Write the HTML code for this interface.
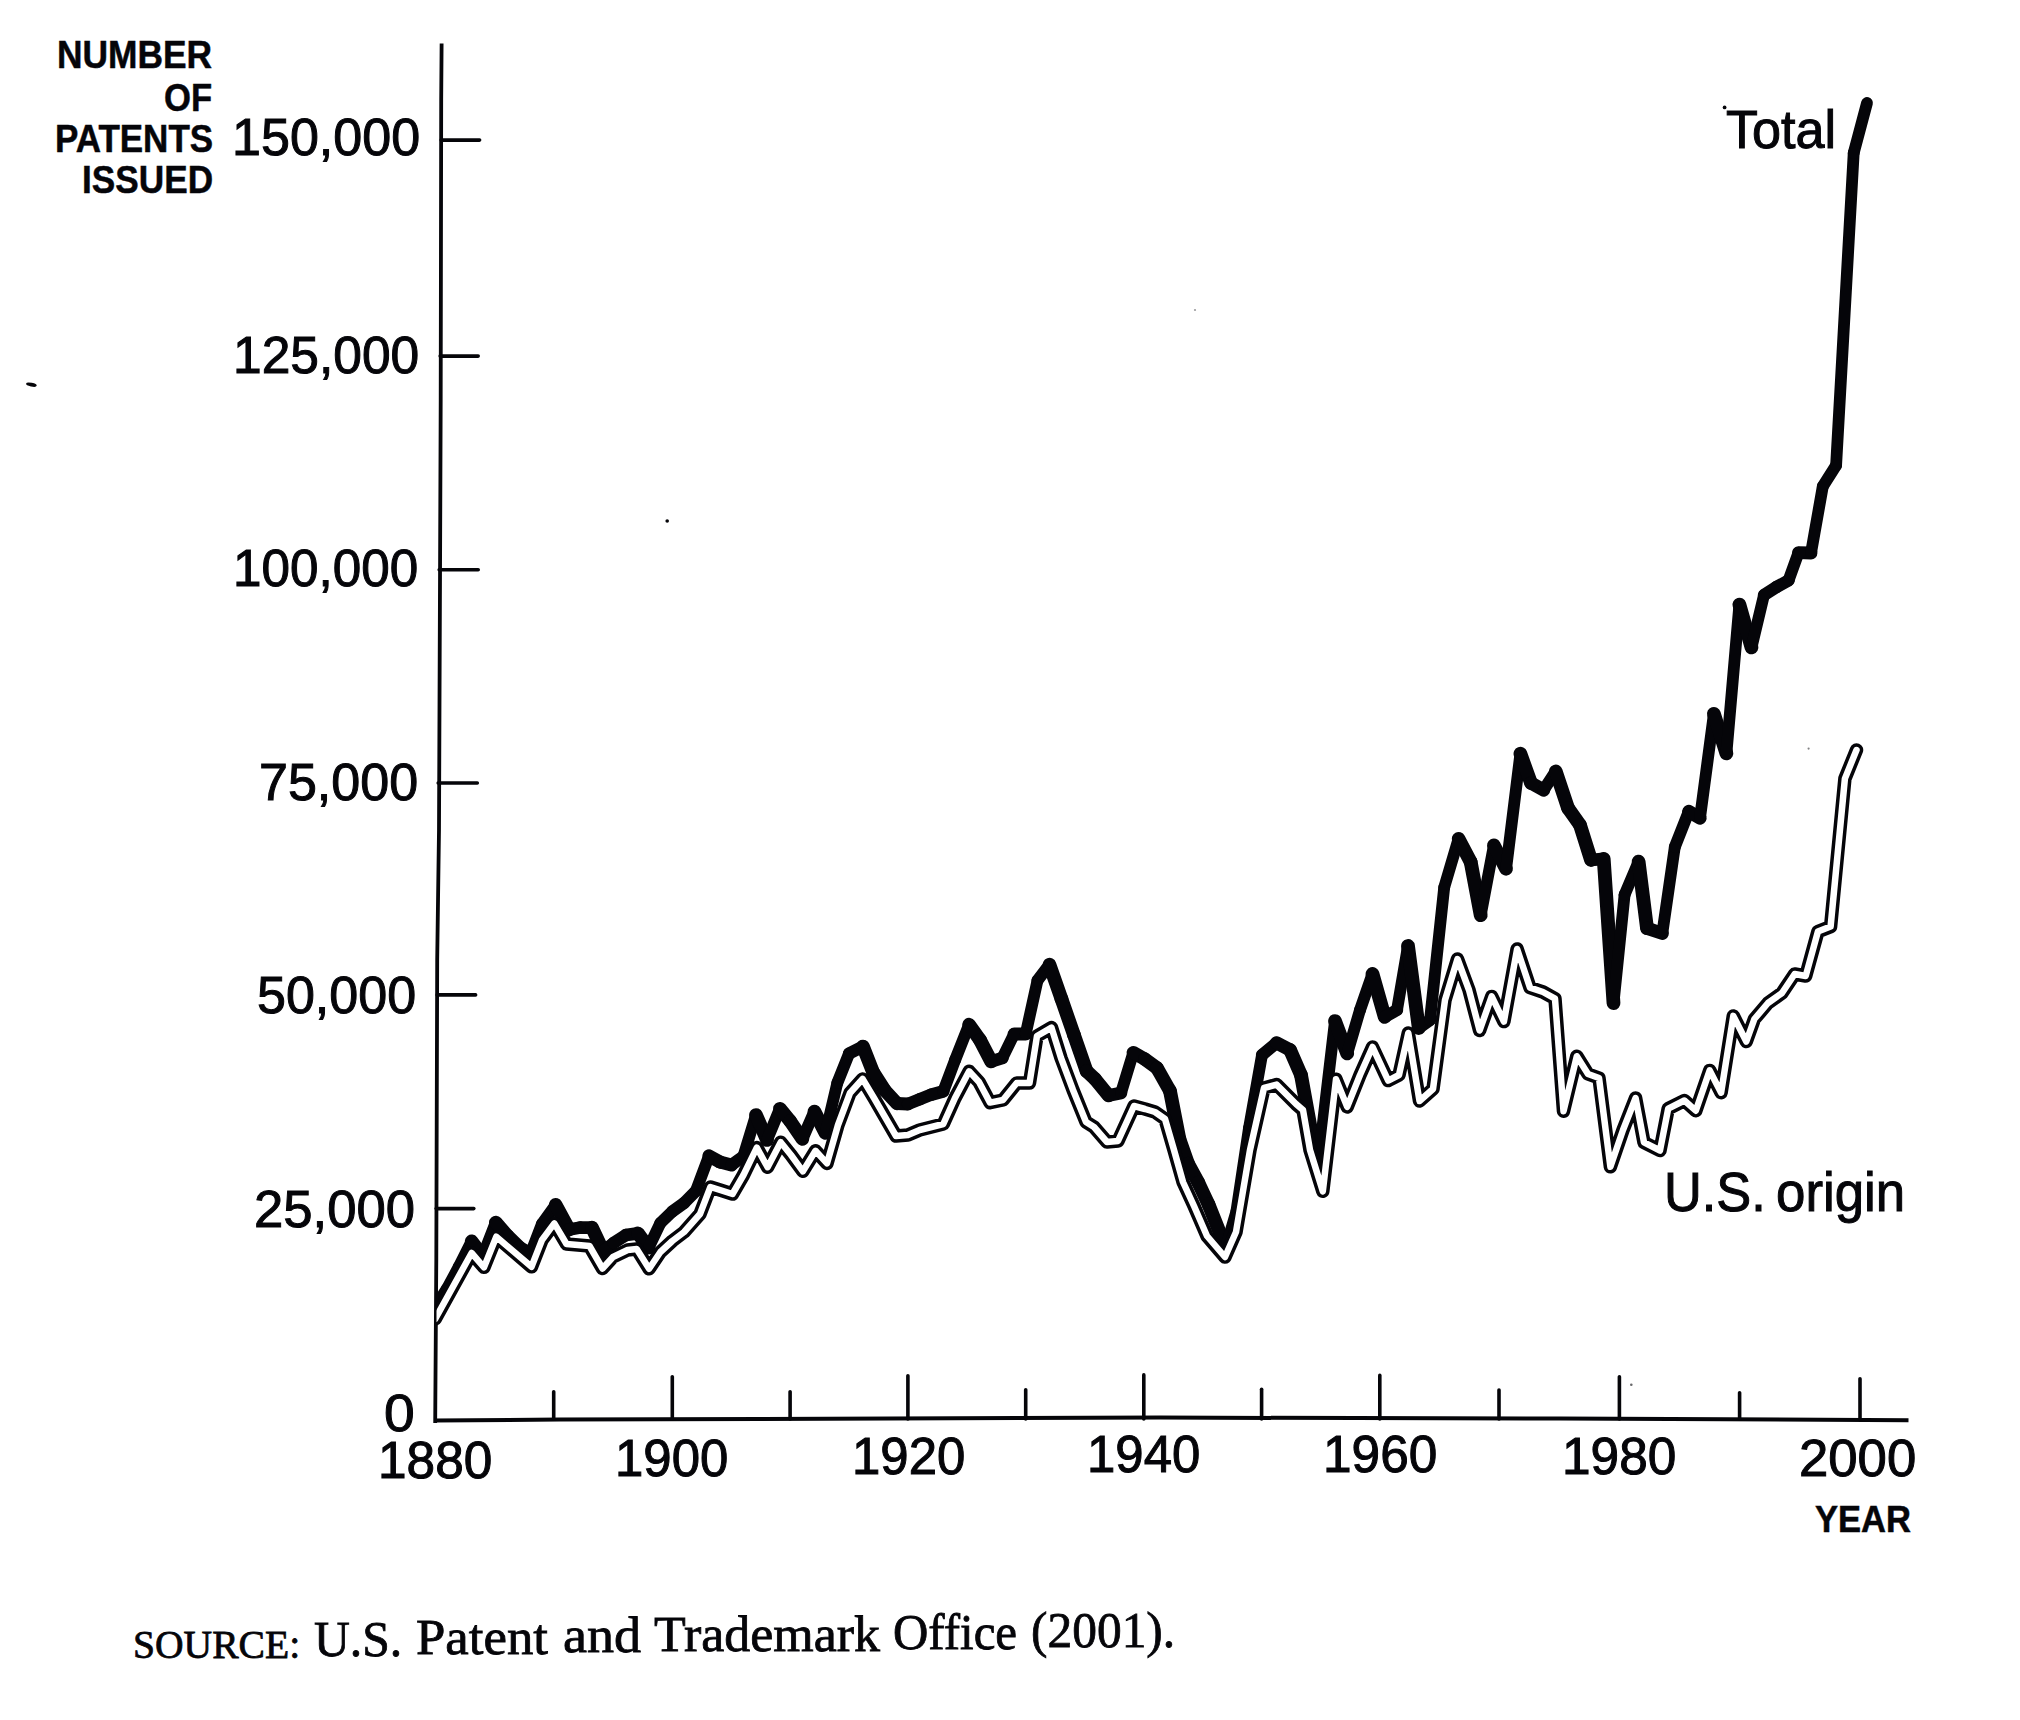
<!DOCTYPE html>
<html><head><meta charset="utf-8"><title>Number of patents issued</title>
<style>
html,body{margin:0;padding:0;background:#fff;}
body{width:2020px;height:1720px;overflow:hidden;}
svg{display:block;}
</style></head>
<body>
<svg width="2020" height="1720" viewBox="0 0 2020 1720">
<rect width="2020" height="1720" fill="#ffffff"/>
<g stroke="#050509" fill="none" stroke-linecap="round">
<polyline points="441.6,45.3 441.2,100 440.7,400 440.2,530 439.0,830 437.2,960 436.3,1260 435.2,1421" stroke-width="3.8" stroke-linecap="square"/>
<polyline points="435.2,1420.4 560,1419.6 760,1419 1160,1417.6 1560,1418.6 1908.5,1420.2" stroke-width="4.0" stroke-linecap="butt"/>
<g stroke-width="3.6"><line x1="441.2" y1="140.1" x2="479.6" y2="140.1"/>
<line x1="440.2" y1="356.1" x2="478.2" y2="356.1"/>
<line x1="439.2" y1="569.8" x2="478.2" y2="569.8"/>
<line x1="438.2" y1="783.0" x2="477.3" y2="783.0"/>
<line x1="437.2" y1="994.9" x2="475.6" y2="994.9"/>
<line x1="436.2" y1="1208.6" x2="473.8" y2="1208.6"/>
<line x1="553.7" y1="1391.7" x2="553.7" y2="1419"/>
<line x1="672.3" y1="1376.8" x2="672.3" y2="1419"/>
<line x1="790.1" y1="1391.7" x2="790.1" y2="1419"/>
<line x1="907.9" y1="1375.8" x2="907.9" y2="1419"/>
<line x1="1025.7" y1="1389.7" x2="1025.7" y2="1419"/>
<line x1="1143.8" y1="1374.9" x2="1143.8" y2="1419"/>
<line x1="1261.6" y1="1389.3" x2="1261.6" y2="1419"/>
<line x1="1379.8" y1="1375.4" x2="1379.8" y2="1419"/>
<line x1="1499.0" y1="1390.1" x2="1499.0" y2="1419"/>
<line x1="1619.4" y1="1376.8" x2="1619.4" y2="1419"/>
<line x1="1739.6" y1="1392.7" x2="1739.6" y2="1419"/>
<line x1="1860.0" y1="1378.8" x2="1860.0" y2="1419"/></g>
</g>
<defs><clipPath id="cp"><rect x="436.5" y="0" width="1600" height="1720"/></clipPath></defs>
<g fill="none" stroke-linejoin="round" clip-path="url(#cp)">
<g stroke="#050509" stroke-linecap="round"><line x1="435.2" y1="1307.0" x2="447.1" y2="1288.5" stroke-width="12.0"/><line x1="447.1" y1="1288.5" x2="458.9" y2="1266.7" stroke-width="11.9"/><line x1="458.9" y1="1266.7" x2="471.6" y2="1241.3" stroke-width="11.9"/><line x1="471.6" y1="1241.3" x2="482.8" y2="1256.0" stroke-width="13.6"/><line x1="482.8" y1="1256.0" x2="495.8" y2="1222.5" stroke-width="11.9"/><line x1="495.8" y1="1222.5" x2="507.5" y2="1235.9" stroke-width="13.6"/><line x1="507.5" y1="1235.9" x2="519.3" y2="1247.4" stroke-width="13.5"/><line x1="519.3" y1="1247.4" x2="530.5" y2="1254.0" stroke-width="13.3"/><line x1="530.5" y1="1254.0" x2="542.0" y2="1224.0" stroke-width="11.9"/><line x1="542.0" y1="1224.0" x2="555.7" y2="1204.9" stroke-width="12.0"/><line x1="555.7" y1="1204.9" x2="569.0" y2="1229.5" stroke-width="13.7"/><line x1="569.0" y1="1229.5" x2="580.0" y2="1227.6" stroke-width="12.6"/><line x1="580.0" y1="1227.6" x2="592.0" y2="1227.6" stroke-width="12.8"/><line x1="592.0" y1="1227.6" x2="603.0" y2="1251.0" stroke-width="13.7"/><line x1="603.0" y1="1251.0" x2="613.5" y2="1243.0" stroke-width="12.2"/><line x1="613.5" y1="1243.0" x2="626.0" y2="1235.0" stroke-width="12.3"/><line x1="626.0" y1="1235.0" x2="638.0" y2="1233.4" stroke-width="12.7"/><line x1="638.0" y1="1233.4" x2="648.6" y2="1247.7" stroke-width="13.6"/><line x1="648.6" y1="1247.7" x2="660.4" y2="1223.0" stroke-width="11.9"/><line x1="660.4" y1="1223.0" x2="672.3" y2="1211.5" stroke-width="12.1"/><line x1="672.3" y1="1211.5" x2="684.1" y2="1203.0" stroke-width="12.2"/><line x1="684.1" y1="1203.0" x2="695.9" y2="1191.0" stroke-width="12.1"/><line x1="695.9" y1="1191.0" x2="709.0" y2="1156.0" stroke-width="11.9"/><line x1="709.0" y1="1156.0" x2="720.0" y2="1162.0" stroke-width="13.3"/><line x1="720.0" y1="1162.0" x2="731.4" y2="1165.0" stroke-width="13.1"/><line x1="731.4" y1="1165.0" x2="743.3" y2="1156.4" stroke-width="12.2"/><line x1="743.3" y1="1156.4" x2="756.0" y2="1115.0" stroke-width="11.8"/><line x1="756.0" y1="1115.0" x2="767.0" y2="1140.0" stroke-width="13.7"/><line x1="767.0" y1="1140.0" x2="779.9" y2="1108.7" stroke-width="11.9"/><line x1="779.9" y1="1108.7" x2="790.1" y2="1121.0" stroke-width="13.6"/><line x1="790.1" y1="1121.0" x2="802.4" y2="1139.0" stroke-width="13.6"/><line x1="802.4" y1="1139.0" x2="814.4" y2="1111.5" stroke-width="11.9"/><line x1="814.4" y1="1111.5" x2="825.5" y2="1133.0" stroke-width="13.7"/><line x1="825.5" y1="1133.0" x2="837.3" y2="1083.0" stroke-width="11.8"/><line x1="837.3" y1="1083.0" x2="849.1" y2="1053.5" stroke-width="11.9"/><line x1="849.1" y1="1053.5" x2="863.0" y2="1046.5" stroke-width="12.4"/><line x1="863.0" y1="1046.5" x2="873.0" y2="1072.0" stroke-width="13.7"/><line x1="873.0" y1="1072.0" x2="884.5" y2="1090.0" stroke-width="13.6"/><line x1="884.5" y1="1090.0" x2="897.0" y2="1103.5" stroke-width="13.5"/><line x1="897.0" y1="1103.5" x2="907.9" y2="1104.0" stroke-width="12.8"/><line x1="907.9" y1="1104.0" x2="919.7" y2="1099.3" stroke-width="12.4"/><line x1="919.7" y1="1099.3" x2="931.5" y2="1094.6" stroke-width="12.4"/><line x1="931.5" y1="1094.6" x2="943.3" y2="1091.4" stroke-width="12.5"/><line x1="943.3" y1="1091.4" x2="955.1" y2="1060.0" stroke-width="11.9"/><line x1="955.1" y1="1060.0" x2="969.1" y2="1024.6" stroke-width="11.9"/><line x1="969.1" y1="1024.6" x2="980.0" y2="1040.0" stroke-width="13.6"/><line x1="980.0" y1="1040.0" x2="991.2" y2="1061.5" stroke-width="13.7"/><line x1="991.2" y1="1061.5" x2="1002.4" y2="1058.0" stroke-width="12.5"/><line x1="1002.4" y1="1058.0" x2="1014.1" y2="1034.0" stroke-width="11.9"/><line x1="1014.1" y1="1034.0" x2="1025.7" y2="1034.0" stroke-width="12.8"/><line x1="1025.7" y1="1034.0" x2="1037.5" y2="980.4" stroke-width="11.8"/><line x1="1037.5" y1="980.4" x2="1049.5" y2="964.7" stroke-width="12.0"/><line x1="1049.5" y1="964.7" x2="1061.5" y2="999.0" stroke-width="13.7"/><line x1="1061.5" y1="999.0" x2="1074.0" y2="1035.0" stroke-width="13.7"/><line x1="1074.0" y1="1035.0" x2="1086.5" y2="1071.0" stroke-width="13.7"/><line x1="1086.5" y1="1071.0" x2="1095.0" y2="1079.0" stroke-width="13.5"/><line x1="1095.0" y1="1079.0" x2="1108.5" y2="1095.5" stroke-width="13.6"/><line x1="1108.5" y1="1095.5" x2="1121.0" y2="1093.0" stroke-width="12.6"/><line x1="1121.0" y1="1093.0" x2="1133.3" y2="1052.6" stroke-width="11.8"/><line x1="1133.3" y1="1052.6" x2="1144.6" y2="1059.0" stroke-width="13.3"/><line x1="1144.6" y1="1059.0" x2="1157.0" y2="1068.0" stroke-width="13.4"/><line x1="1157.0" y1="1068.0" x2="1170.0" y2="1091.0" stroke-width="13.7"/><line x1="1170.0" y1="1091.0" x2="1179.4" y2="1139.0" stroke-width="13.8"/><line x1="1179.4" y1="1139.0" x2="1188.1" y2="1163.7" stroke-width="13.7"/><line x1="1188.1" y1="1163.7" x2="1198.3" y2="1182.6" stroke-width="13.7"/><line x1="1198.3" y1="1182.6" x2="1208.5" y2="1204.4" stroke-width="13.7"/><line x1="1208.5" y1="1204.4" x2="1225.8" y2="1247.7" stroke-width="13.7"/><line x1="1225.8" y1="1247.7" x2="1236.4" y2="1211.4" stroke-width="11.8"/><line x1="1236.4" y1="1211.4" x2="1249.0" y2="1128.0" stroke-width="11.8"/><line x1="1249.0" y1="1128.0" x2="1262.0" y2="1055.0" stroke-width="11.8"/><line x1="1262.0" y1="1055.0" x2="1276.6" y2="1042.8" stroke-width="12.2"/><line x1="1276.6" y1="1042.8" x2="1290.0" y2="1049.8" stroke-width="13.3"/><line x1="1290.0" y1="1049.8" x2="1301.0" y2="1075.0" stroke-width="13.7"/><line x1="1301.0" y1="1075.0" x2="1311.0" y2="1130.0" stroke-width="13.8"/><line x1="1311.0" y1="1130.0" x2="1319.0" y2="1156.4" stroke-width="13.8"/><line x1="1319.0" y1="1156.4" x2="1335.0" y2="1021.0" stroke-width="11.8"/><line x1="1335.0" y1="1021.0" x2="1347.2" y2="1053.5" stroke-width="13.7"/><line x1="1347.2" y1="1053.5" x2="1360.0" y2="1010.0" stroke-width="11.8"/><line x1="1360.0" y1="1010.0" x2="1372.5" y2="974.0" stroke-width="11.9"/><line x1="1372.5" y1="974.0" x2="1384.7" y2="1016.9" stroke-width="13.8"/><line x1="1384.7" y1="1016.9" x2="1397.0" y2="1010.0" stroke-width="12.3"/><line x1="1397.0" y1="1010.0" x2="1408.0" y2="946.0" stroke-width="11.8"/><line x1="1408.0" y1="946.0" x2="1418.8" y2="1028.0" stroke-width="13.8"/><line x1="1418.8" y1="1028.0" x2="1430.0" y2="1020.0" stroke-width="12.2"/><line x1="1430.0" y1="1020.0" x2="1444.2" y2="887.4" stroke-width="11.8"/><line x1="1444.2" y1="887.4" x2="1458.6" y2="838.8" stroke-width="11.8"/><line x1="1458.6" y1="838.8" x2="1470.7" y2="862.0" stroke-width="13.7"/><line x1="1470.7" y1="862.0" x2="1480.7" y2="915.2" stroke-width="13.8"/><line x1="1480.7" y1="915.2" x2="1493.9" y2="845.4" stroke-width="11.8"/><line x1="1493.9" y1="845.4" x2="1506.1" y2="868.8" stroke-width="13.7"/><line x1="1506.1" y1="868.8" x2="1520.4" y2="753.7" stroke-width="11.8"/><line x1="1520.4" y1="753.7" x2="1531.0" y2="783.0" stroke-width="13.7"/><line x1="1531.0" y1="783.0" x2="1543.6" y2="790.0" stroke-width="13.3"/><line x1="1543.6" y1="790.0" x2="1555.8" y2="771.4" stroke-width="12.0"/><line x1="1555.8" y1="771.4" x2="1568.0" y2="808.0" stroke-width="13.7"/><line x1="1568.0" y1="808.0" x2="1580.0" y2="825.0" stroke-width="13.6"/><line x1="1580.0" y1="825.0" x2="1591.0" y2="860.0" stroke-width="13.8"/><line x1="1591.0" y1="860.0" x2="1603.7" y2="858.9" stroke-width="12.7"/><line x1="1603.7" y1="858.9" x2="1613.5" y2="1003.1" stroke-width="13.8"/><line x1="1613.5" y1="1003.1" x2="1624.6" y2="894.7" stroke-width="11.8"/><line x1="1624.6" y1="894.7" x2="1638.6" y2="861.7" stroke-width="11.9"/><line x1="1638.6" y1="861.7" x2="1647.0" y2="928.2" stroke-width="13.8"/><line x1="1647.0" y1="928.2" x2="1662.3" y2="933.4" stroke-width="13.1"/><line x1="1662.3" y1="933.4" x2="1674.8" y2="847.0" stroke-width="11.8"/><line x1="1674.8" y1="847.0" x2="1688.8" y2="811.5" stroke-width="11.9"/><line x1="1688.8" y1="811.5" x2="1700.0" y2="818.0" stroke-width="13.3"/><line x1="1700.0" y1="818.0" x2="1713.9" y2="713.8" stroke-width="11.8"/><line x1="1713.9" y1="713.8" x2="1726.4" y2="753.4" stroke-width="13.8"/><line x1="1726.4" y1="753.4" x2="1739.4" y2="604.6" stroke-width="11.8"/><line x1="1739.4" y1="604.6" x2="1751.5" y2="647.4" stroke-width="13.8"/><line x1="1751.5" y1="647.4" x2="1764.0" y2="595.0" stroke-width="11.8"/><line x1="1764.0" y1="595.0" x2="1776.5" y2="587.0" stroke-width="12.3"/><line x1="1776.5" y1="587.0" x2="1788.6" y2="580.3" stroke-width="12.3"/><line x1="1788.6" y1="580.3" x2="1798.5" y2="552.7" stroke-width="11.9"/><line x1="1798.5" y1="552.7" x2="1811.0" y2="553.0" stroke-width="12.8"/><line x1="1811.0" y1="553.0" x2="1822.8" y2="486.4" stroke-width="11.8"/><line x1="1822.8" y1="486.4" x2="1836.1" y2="465.4" stroke-width="12.0"/><line x1="1836.1" y1="465.4" x2="1853.7" y2="153.0" stroke-width="11.8"/><line x1="1853.7" y1="153.0" x2="1867.0" y2="103.0" stroke-width="11.8"/></g>
<polyline points="435.2,1319.0 471.6,1253.0 484.0,1267.3 496.3,1236.7 531.5,1266.8 542.0,1240.0 554.3,1223.4 566.5,1244.0 578.0,1245.0 589.5,1246.0 602.5,1268.5 613.0,1257.0 627.6,1250.0 636.7,1249.0 649.1,1268.8 660.4,1252.0 672.3,1241.0 684.1,1232.0 700.0,1214.0 710.4,1187.0 720.0,1190.0 732.5,1194.0 743.5,1175.0 756.8,1147.6 767.6,1167.2 780.7,1142.2 791.0,1155.0 802.9,1171.3 815.5,1150.8 827.0,1163.4 838.0,1125.0 850.0,1093.0 862.6,1079.0 874.0,1098.0 885.0,1117.0 896.0,1136.0 907.9,1135.0 919.7,1130.0 931.5,1127.0 943.3,1124.0 955.0,1098.0 969.1,1071.3 979.0,1082.0 990.0,1102.6 1003.0,1100.0 1016.7,1083.0 1029.5,1083.0 1037.0,1036.0 1051.5,1027.6 1061.0,1058.0 1073.0,1090.0 1086.0,1122.0 1094.0,1127.0 1107.0,1142.0 1118.0,1141.0 1134.0,1106.0 1145.0,1109.0 1155.0,1112.0 1165.0,1119.0 1174.0,1150.0 1183.0,1182.0 1194.0,1206.0 1207.0,1236.0 1225.0,1257.0 1236.0,1232.0 1250.0,1150.0 1264.0,1088.0 1276.6,1084.6 1296.0,1104.0 1303.0,1110.0 1310.0,1150.0 1322.8,1191.3 1336.0,1079.3 1347.2,1106.9 1360.0,1075.0 1372.5,1047.0 1388.2,1080.6 1399.0,1075.0 1408.3,1033.0 1419.5,1101.0 1433.0,1089.0 1445.0,1000.0 1457.5,959.0 1469.0,990.0 1479.6,1030.5 1491.7,996.4 1503.9,1021.6 1517.1,949.0 1530.0,987.6 1543.0,992.0 1555.0,998.7 1563.5,1111.2 1576.8,1056.2 1588.0,1074.0 1599.0,1078.0 1610.4,1166.8 1623.0,1130.0 1635.6,1098.0 1644.0,1142.4 1660.0,1150.5 1668.2,1108.6 1684.4,1100.5 1695.8,1110.7 1709.7,1070.4 1721.1,1092.7 1733.3,1015.9 1746.3,1041.5 1754.4,1019.0 1768.0,1003.0 1782.0,993.0 1794.7,974.0 1805.7,976.0 1817.9,931.6 1830.6,926.6 1844.9,778.6 1856.5,750.0" stroke="#050509" stroke-width="13.5" stroke-linecap="round"/>
<polyline points="435.2,1319.0 471.6,1253.0 484.0,1267.3 496.3,1236.7 531.5,1266.8 542.0,1240.0 554.3,1223.4 566.5,1244.0 578.0,1245.0 589.5,1246.0 602.5,1268.5 613.0,1257.0 627.6,1250.0 636.7,1249.0 649.1,1268.8 660.4,1252.0 672.3,1241.0 684.1,1232.0 700.0,1214.0 710.4,1187.0 720.0,1190.0 732.5,1194.0 743.5,1175.0 756.8,1147.6 767.6,1167.2 780.7,1142.2 791.0,1155.0 802.9,1171.3 815.5,1150.8 827.0,1163.4 838.0,1125.0 850.0,1093.0 862.6,1079.0 874.0,1098.0 885.0,1117.0 896.0,1136.0 907.9,1135.0 919.7,1130.0 931.5,1127.0 943.3,1124.0 955.0,1098.0 969.1,1071.3 979.0,1082.0 990.0,1102.6 1003.0,1100.0 1016.7,1083.0 1029.5,1083.0 1037.0,1036.0 1051.5,1027.6 1061.0,1058.0 1073.0,1090.0 1086.0,1122.0 1094.0,1127.0 1107.0,1142.0 1118.0,1141.0 1134.0,1106.0 1145.0,1109.0 1155.0,1112.0 1165.0,1119.0 1174.0,1150.0 1183.0,1182.0 1194.0,1206.0 1207.0,1236.0 1225.0,1257.0 1236.0,1232.0 1250.0,1150.0 1264.0,1088.0 1276.6,1084.6 1296.0,1104.0 1303.0,1110.0 1310.0,1150.0 1322.8,1191.3 1336.0,1079.3 1347.2,1106.9 1360.0,1075.0 1372.5,1047.0 1388.2,1080.6 1399.0,1075.0 1408.3,1033.0 1419.5,1101.0 1433.0,1089.0 1445.0,1000.0 1457.5,959.0 1469.0,990.0 1479.6,1030.5 1491.7,996.4 1503.9,1021.6 1517.1,949.0 1530.0,987.6 1543.0,992.0 1555.0,998.7 1563.5,1111.2 1576.8,1056.2 1588.0,1074.0 1599.0,1078.0 1610.4,1166.8 1623.0,1130.0 1635.6,1098.0 1644.0,1142.4 1660.0,1150.5 1668.2,1108.6 1684.4,1100.5 1695.8,1110.7 1709.7,1070.4 1721.1,1092.7 1733.3,1015.9 1746.3,1041.5 1754.4,1019.0 1768.0,1003.0 1782.0,993.0 1794.7,974.0 1805.7,976.0 1817.9,931.6 1830.6,926.6 1844.9,778.6 1856.5,750.0" stroke="#ffffff" stroke-width="6.5" stroke-linecap="round"/>
</g>
<text x="57.0" y="68.2" font-family="Liberation Sans, Arial, Helvetica, sans-serif" font-size="38.3" font-weight="bold" fill="#050509" stroke="#050509" stroke-width="0.50" textLength="155.1" lengthAdjust="spacingAndGlyphs">NUMBER</text>
<text x="164.0" y="110.6" font-family="Liberation Sans, Arial, Helvetica, sans-serif" font-size="38.3" font-weight="bold" fill="#050509" stroke="#050509" stroke-width="0.50" textLength="48.1" lengthAdjust="spacingAndGlyphs">OF</text>
<text x="55.0" y="151.9" font-family="Liberation Sans, Arial, Helvetica, sans-serif" font-size="38.3" font-weight="bold" fill="#050509" stroke="#050509" stroke-width="0.50" textLength="158.1" lengthAdjust="spacingAndGlyphs">PATENTS</text>
<text x="82.0" y="193.3" font-family="Liberation Sans, Arial, Helvetica, sans-serif" font-size="38.3" font-weight="bold" fill="#050509" stroke="#050509" stroke-width="0.50" textLength="131.1" lengthAdjust="spacingAndGlyphs">ISSUED</text>
<text x="232.0" y="155.2" font-family="Liberation Sans, Arial, Helvetica, sans-serif" font-size="52.2" font-weight="normal" fill="#050509" stroke="#050509" stroke-width="1.00" textLength="188.1" lengthAdjust="spacingAndGlyphs">150,000</text>
<text x="233.0" y="373.0" font-family="Liberation Sans, Arial, Helvetica, sans-serif" font-size="52.2" font-weight="normal" fill="#050509" stroke="#050509" stroke-width="1.00" textLength="186.2" lengthAdjust="spacingAndGlyphs">125,000</text>
<text x="233.0" y="586.2" font-family="Liberation Sans, Arial, Helvetica, sans-serif" font-size="52.2" font-weight="normal" fill="#050509" stroke="#050509" stroke-width="1.00" textLength="185.2" lengthAdjust="spacingAndGlyphs">100,000</text>
<text x="259.0" y="799.8" font-family="Liberation Sans, Arial, Helvetica, sans-serif" font-size="52.2" font-weight="normal" fill="#050509" stroke="#050509" stroke-width="1.00" textLength="159.1" lengthAdjust="spacingAndGlyphs">75,000</text>
<text x="257.0" y="1013.4" font-family="Liberation Sans, Arial, Helvetica, sans-serif" font-size="52.2" font-weight="normal" fill="#050509" stroke="#050509" stroke-width="1.00" textLength="159.1" lengthAdjust="spacingAndGlyphs">50,000</text>
<text x="254.0" y="1227.2" font-family="Liberation Sans, Arial, Helvetica, sans-serif" font-size="52.2" font-weight="normal" fill="#050509" stroke="#050509" stroke-width="1.00" textLength="161.1" lengthAdjust="spacingAndGlyphs">25,000</text>
<text x="384.0" y="1430.8" font-family="Liberation Sans, Arial, Helvetica, sans-serif" font-size="52.2" font-weight="normal" fill="#050509" stroke="#050509" stroke-width="1.00" textLength="30.7" lengthAdjust="spacingAndGlyphs">0</text>
<text x="378.0" y="1478.2" font-family="Liberation Sans, Arial, Helvetica, sans-serif" font-size="52.2" font-weight="normal" fill="#050509" stroke="#050509" stroke-width="1.00" textLength="114.3" lengthAdjust="spacingAndGlyphs">1880</text>
<text x="615.0" y="1475.8" font-family="Liberation Sans, Arial, Helvetica, sans-serif" font-size="52.2" font-weight="normal" fill="#050509" stroke="#050509" stroke-width="1.00" textLength="113.3" lengthAdjust="spacingAndGlyphs">1900</text>
<text x="852.0" y="1474.0" font-family="Liberation Sans, Arial, Helvetica, sans-serif" font-size="52.2" font-weight="normal" fill="#050509" stroke="#050509" stroke-width="1.00" textLength="113.3" lengthAdjust="spacingAndGlyphs">1920</text>
<text x="1087.0" y="1472.2" font-family="Liberation Sans, Arial, Helvetica, sans-serif" font-size="52.2" font-weight="normal" fill="#050509" stroke="#050509" stroke-width="1.00" textLength="113.3" lengthAdjust="spacingAndGlyphs">1940</text>
<text x="1323.0" y="1472.4" font-family="Liberation Sans, Arial, Helvetica, sans-serif" font-size="52.2" font-weight="normal" fill="#050509" stroke="#050509" stroke-width="1.00" textLength="114.3" lengthAdjust="spacingAndGlyphs">1960</text>
<text x="1562.0" y="1474.0" font-family="Liberation Sans, Arial, Helvetica, sans-serif" font-size="52.2" font-weight="normal" fill="#050509" stroke="#050509" stroke-width="1.00" textLength="114.3" lengthAdjust="spacingAndGlyphs">1980</text>
<text x="1799.0" y="1476.4" font-family="Liberation Sans, Arial, Helvetica, sans-serif" font-size="52.2" font-weight="normal" fill="#050509" stroke="#050509" stroke-width="1.00" textLength="117.2" lengthAdjust="spacingAndGlyphs">2000</text>
<text x="1815.0" y="1532.3" font-family="Liberation Sans, Arial, Helvetica, sans-serif" font-size="36.0" font-weight="bold" fill="#050509" stroke="#050509" stroke-width="0.50" textLength="96.0" lengthAdjust="spacingAndGlyphs">YEAR</text>
<text x="1726.0" y="148.2" font-family="Liberation Sans, Arial, Helvetica, sans-serif" font-size="52.8" font-weight="normal" fill="#050509" stroke="#050509" stroke-width="1.00" textLength="110.2" lengthAdjust="spacingAndGlyphs">Total</text>
<text x="1664.0" y="1210.5" font-family="Liberation Sans, Arial, Helvetica, sans-serif" font-size="55.0" font-weight="normal" fill="#050509" stroke="#050509" stroke-width="1.00" textLength="101.8" lengthAdjust="spacingAndGlyphs">U.S.</text>
<text x="1776.0" y="1210.5" font-family="Liberation Sans, Arial, Helvetica, sans-serif" font-size="55.0" font-weight="normal" fill="#050509" stroke="#050509" stroke-width="1.00" textLength="129.2" lengthAdjust="spacingAndGlyphs">origin</text>
<text x="133.0" y="1658.2" font-family="Liberation Serif, Times New Roman, serif" font-size="40.9" font-weight="normal" fill="#050509" stroke="#050509" stroke-width="0.80" textLength="167.2" lengthAdjust="spacingAndGlyphs">SOURCE:</text>
<text x="314.0" y="1655.5" font-family="Liberation Serif, Times New Roman, serif" font-size="51.5" font-weight="normal" fill="#050509" stroke="#050509" stroke-width="0.80" textLength="88.2" lengthAdjust="spacingAndGlyphs">U.S.</text>
<text x="416.0" y="1653.5" font-family="Liberation Serif, Times New Roman, serif" font-size="51.5" font-weight="normal" fill="#050509" stroke="#050509" stroke-width="0.80" textLength="132.0" lengthAdjust="spacingAndGlyphs">Patent</text>
<text x="563.0" y="1652.1" font-family="Liberation Serif, Times New Roman, serif" font-size="51.5" font-weight="normal" fill="#050509" stroke="#050509" stroke-width="0.80" textLength="78.1" lengthAdjust="spacingAndGlyphs">and</text>
<text x="654.0" y="1650.5" font-family="Liberation Serif, Times New Roman, serif" font-size="51.5" font-weight="normal" fill="#050509" stroke="#050509" stroke-width="0.80" textLength="226.0" lengthAdjust="spacingAndGlyphs">Trademark</text>
<text x="893.0" y="1648.6" font-family="Liberation Serif, Times New Roman, serif" font-size="51.5" font-weight="normal" fill="#050509" stroke="#050509" stroke-width="0.80" textLength="124.1" lengthAdjust="spacingAndGlyphs">Office</text>
<text x="1031.0" y="1647.0" font-family="Liberation Serif, Times New Roman, serif" font-size="51.5" font-weight="normal" fill="#050509" stroke="#050509" stroke-width="0.80" textLength="144.2" lengthAdjust="spacingAndGlyphs">(2001).</text>
<g fill="#050509">
<ellipse cx="31.4" cy="384.7" rx="5.4" ry="1.9" transform="rotate(12 31.4 384.7)"/>
<circle cx="1724.6" cy="107.4" r="1.9"/>
<circle cx="1631.3" cy="1384.8" r="1.3" fill-opacity="0.6"/>
<circle cx="1808.6" cy="748.6" r="1.1" fill-opacity="0.5"/>
<circle cx="667.2" cy="521" r="1.8"/>
<circle cx="1195" cy="310" r="1.1" fill-opacity="0.4"/>
</g>
</svg>
</body></html>
